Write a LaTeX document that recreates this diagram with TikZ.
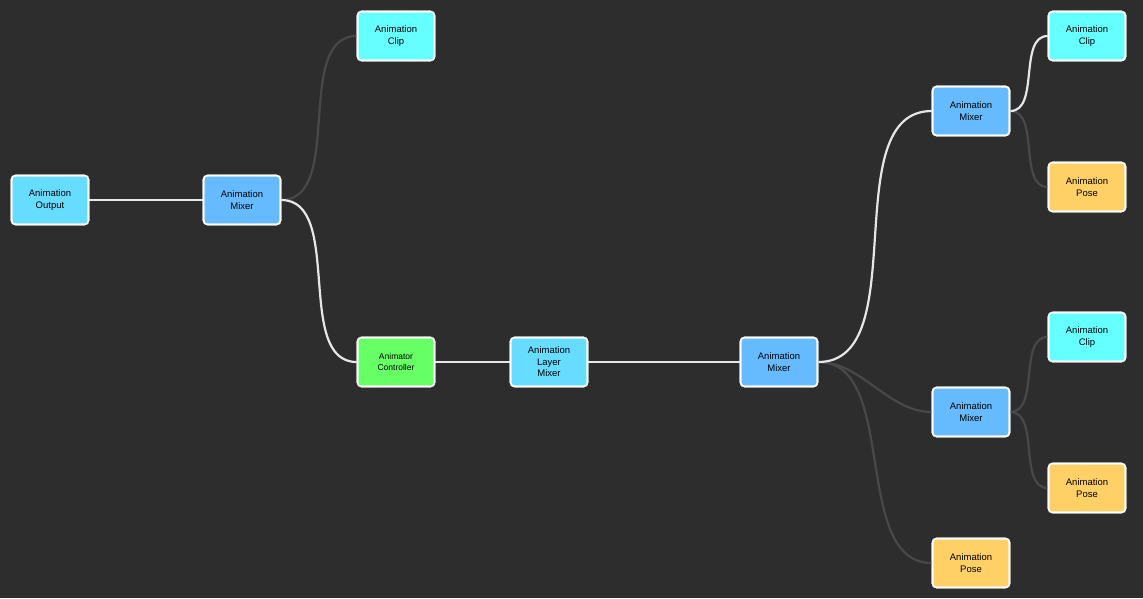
\documentclass[tikz,border=0pt]{standalone}
\usepackage{fontspec}
\setmainfont{Liberation Sans}
\begin{document}
\begin{tikzpicture}[x=1pt,y=-1pt,
  box/.style={draw=white,line width=1.6pt,rounded corners=4pt,minimum width=77pt,minimum height=49pt,align=center,font=\fontsize{9.5}{11.5}\selectfont,text=black,inner sep=1pt},
  clip/.style={box,fill=clipc},
  outp/.style={box,fill=outc},
  mix/.style={box,fill=mixc},
  ctrl/.style={box,fill=ctrlc,font=\fontsize{8.5}{11}\selectfont},
  pose/.style={box,fill=posec},
  act/.style={draw=actc,line width=2.2pt},
  ina/.style={draw=inac,line width=2.2pt},
  cv/.style={out=0,in=180,looseness=0.9}]
\definecolor{bg}{HTML}{2D2D2D}
\definecolor{clipc}{HTML}{66FFFF}
\definecolor{outc}{HTML}{66DDFF}
\definecolor{mixc}{HTML}{66BBFF}
\definecolor{ctrlc}{HTML}{66FF66}
\definecolor{posec}{HTML}{FFD066}
\definecolor{actc}{HTML}{E6E6E6}
\definecolor{inac}{HTML}{484848}
\fill[bg] (0,0) rectangle (1143,598);
\useasboundingbox (0,0) rectangle (1143,598);
\node[outp] (out) at (50,200) {Animation\\Output};
\node[mix] (m1) at (242,200) {Animation\\Mixer};
\node[clip] (c1) at (396,36) {Animation\\Clip};
\node[ctrl] (ac) at (396,362) {Animator\\Controller};
\node[outp] (lm) at (549,362) {Animation\\Layer\\Mixer};
\node[mix] (m2) at (779,362) {Animation\\Mixer};
\node[mix] (m3) at (971,111) {Animation\\Mixer};
\node[clip] (c2) at (1087,36) {Animation\\Clip};
\node[pose] (p1) at (1087,187) {Animation\\Pose};
\node[clip] (c3) at (1087,337) {Animation\\Clip};
\node[mix] (m4) at (971,412) {Animation\\Mixer};
\node[pose] (p2) at (1087,488) {Animation\\Pose};
\node[pose] (p3) at (971,563) {Animation\\Pose};
\begin{scope}[on background layer/.style={}]
\end{scope}
\path[ina] (m1.east) to[cv] (c1.west);
\path[ina] (m3.east) to[cv] (p1.west);
\path[ina] (m2.east) to[cv] (m4.west);
\path[ina] (m2.east) to[cv] (p3.west);
\path[ina] (m4.east) to[cv] (c3.west);
\path[ina] (m4.east) to[cv] (p2.west);
\path[act] (out.east) -- (m1.west);
\path[act] (m1.east) to[cv] (ac.west);
\path[act] (ac.east) -- (lm.west);
\path[act] (lm.east) -- (m2.west);
\path[act] (m2.east) to[cv] (m3.west);
\path[act] (m3.east) to[cv] (c2.west);
\foreach \n in {out,m1,c1,ac,lm,m2,m3,c2,p1,c3,m4,p2,p3}{\node[draw=white,line width=1.6pt,rounded corners=4pt,minimum width=77pt,minimum height=49pt] at (\n.center) {};}
\end{tikzpicture}
\end{document}
